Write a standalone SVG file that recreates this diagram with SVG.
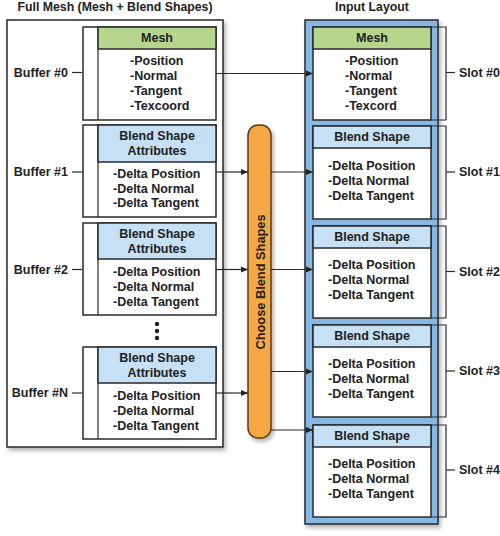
<svg xmlns="http://www.w3.org/2000/svg" width="500" height="536" viewBox="0 0 500 536">
<defs>
<filter id="sh" x="-10%" y="-10%" width="130%" height="130%">
<feDropShadow dx="2" dy="3" stdDeviation="2" flood-color="#000" flood-opacity="0.3"/>
</filter>
<marker id="ar" markerWidth="8" markerHeight="8" refX="7" refY="4" orient="auto" markerUnits="userSpaceOnUse">
<path d="M0,1 L7,4 L0,7 z" fill="#222"/>
</marker>
</defs>
<style>
text{font-family:"Liberation Sans",Arial,sans-serif;font-weight:bold;fill:#222;font-size:12.5px}
.t{font-size:12.3px}
.v{font-size:12.8px}
.c{text-anchor:middle}
.r{text-anchor:end}
.box{fill:#fff;stroke:#2a2a2a;stroke-width:1.5}
.gh{fill:#b6d68d;stroke:#2a2a2a;stroke-width:1.5}
.bh{fill:#c6e0f5;stroke:#2a2a2a;stroke-width:1.5}
.ln{stroke:#2a2a2a;stroke-width:1.2;fill:none}
.br{stroke:#2a2a2a;stroke-width:1.2;fill:none}
</style>
<rect width="500" height="536" fill="#fff"/>

<text class="t c" x="115" y="11">Full Mesh (Mesh + Blend Shapes)</text>
<text class="t c" x="372" y="11">Input Layout</text>

<g id="full-mesh">
<rect x="7" y="20" width="216" height="427" fill="#fff" stroke="#2a2a2a" stroke-width="1.5" filter="url(#sh)"/>
</g>

<g id="buffer0">
<rect class="box" x="83" y="27" width="133" height="93"/>
<line class="ln" x1="98" y1="27" x2="98" y2="120"/>
<rect class="gh" x="98" y="27" width="118" height="22"/>
<text class="c" x="157" y="42">Mesh</text>
<text x="130" y="65">-Position</text>
<text x="130" y="80">-Normal</text>
<text x="130" y="95">-Tangent</text>
<text x="130" y="110">-Texcoord</text>
<text class="r" x="68" y="77">Buffer #0</text>
<line class="ln" x1="72" y1="72.5" x2="82" y2="72.5"/>
</g>

<g id="buffer1">
<rect class="box" x="83" y="125" width="133" height="92"/>
<line class="ln" x1="98" y1="125" x2="98" y2="217"/>
<rect class="bh" x="98" y="125" width="118" height="37"/>
<text class="c" x="157" y="140">Blend Shape</text>
<text class="c" x="157" y="155">Attributes</text>
<text x="113" y="178">-Delta Position</text>
<text x="113" y="193">-Delta Normal</text>
<text x="113" y="207">-Delta Tangent</text>
<text class="r" x="68" y="176">Buffer #1</text>
<line class="ln" x1="72" y1="172" x2="82" y2="172"/>
</g>

<g id="buffer2">
<rect class="box" x="83" y="223" width="133" height="92"/>
<line class="ln" x1="98" y1="223" x2="98" y2="315"/>
<rect class="bh" x="98" y="223" width="118" height="36"/>
<text class="c" x="157" y="238">Blend Shape</text>
<text class="c" x="157" y="253">Attributes</text>
<text x="113" y="276">-Delta Position</text>
<text x="113" y="291">-Delta Normal</text>
<text x="113" y="306">-Delta Tangent</text>
<text class="r" x="68" y="274">Buffer #2</text>
<line class="ln" x1="72" y1="269.5" x2="82" y2="269.5"/>
</g>

<g id="dots" fill="#222">
<circle cx="157" cy="324" r="2.2"/>
<circle cx="157" cy="331" r="2.2"/>
<circle cx="157" cy="338" r="2.2"/>
</g>

<g id="bufferN">
<rect class="box" x="83" y="347" width="133" height="92"/>
<line class="ln" x1="98" y1="347" x2="98" y2="439"/>
<rect class="bh" x="98" y="347" width="118" height="36"/>
<text class="c" x="157" y="362">Blend Shape</text>
<text class="c" x="157" y="377">Attributes</text>
<text x="113" y="400">-Delta Position</text>
<text x="113" y="415">-Delta Normal</text>
<text x="113" y="430">-Delta Tangent</text>
<text class="r" x="68" y="397">Buffer #N</text>
<line class="ln" x1="72" y1="393" x2="82" y2="393"/>
</g>

<g id="choose">
<rect x="248" y="125" width="23" height="313" rx="10" ry="10" fill="#f5a845" stroke="#5a3d15" stroke-width="1.5" filter="url(#sh)"/>
<text class="c v" transform="translate(264.5,282) rotate(-90)">Choose Blend Shapes</text>
</g>

<g id="input-layout">
<rect x="305" y="20" width="133" height="504" fill="#86b8e3" stroke="#2a2a2a" stroke-width="1.5" filter="url(#sh)"/>
</g>

<g id="slot0">
<rect class="box" x="313" y="27" width="118" height="93"/>
<rect class="gh" x="313" y="27" width="118" height="22"/>
<text class="c" x="372" y="42">Mesh</text>
<text x="345" y="65">-Position</text>
<text x="345" y="80">-Normal</text>
<text x="345" y="95">-Tangent</text>
<text x="345" y="110">-Texcord</text>
<path class="br" d="M431,27 H446 V120 H431"/>
<line class="ln" x1="446" y1="72.5" x2="455" y2="72.5"/>
<text x="459" y="77">Slot #0</text>
</g>

<g id="slot1">
<rect class="box" x="313" y="126" width="118" height="93"/>
<rect class="bh" x="313" y="126" width="118" height="22"/>
<text class="c" x="372" y="141">Blend Shape</text>
<text x="328" y="170">-Delta Position</text>
<text x="328" y="185">-Delta Normal</text>
<text x="328" y="200">-Delta Tangent</text>
<path class="br" d="M431,126 H446 V219 H431"/>
<line class="ln" x1="446" y1="172" x2="455" y2="172"/>
<text x="459" y="176">Slot #1</text>
</g>

<g id="slot2">
<rect class="box" x="313" y="226" width="118" height="92"/>
<rect class="bh" x="313" y="226" width="118" height="22"/>
<text class="c" x="372" y="241">Blend Shape</text>
<text x="328" y="269">-Delta Position</text>
<text x="328" y="284">-Delta Normal</text>
<text x="328" y="299">-Delta Tangent</text>
<path class="br" d="M431,226 H446 V318 H431"/>
<line class="ln" x1="446" y1="271.5" x2="455" y2="271.5"/>
<text x="459" y="276">Slot #2</text>
</g>

<g id="slot3">
<rect class="box" x="313" y="325" width="118" height="92"/>
<rect class="bh" x="313" y="325" width="118" height="22"/>
<text class="c" x="372" y="340">Blend Shape</text>
<text x="328" y="368">-Delta Position</text>
<text x="328" y="383">-Delta Normal</text>
<text x="328" y="398">-Delta Tangent</text>
<path class="br" d="M431,325 H446 V417 H431"/>
<line class="ln" x1="446" y1="371" x2="455" y2="371"/>
<text x="459" y="375">Slot #3</text>
</g>

<g id="slot4">
<rect class="box" x="313" y="425" width="118" height="92"/>
<rect class="bh" x="313" y="425" width="118" height="22"/>
<text class="c" x="372" y="440">Blend Shape</text>
<text x="328" y="468">-Delta Position</text>
<text x="328" y="483">-Delta Normal</text>
<text x="328" y="498">-Delta Tangent</text>
<path class="br" d="M431,425 H446 V517 H431"/>
<line class="ln" x1="446" y1="470" x2="455" y2="470"/>
<text x="459" y="474">Slot #4</text>
</g>

<g id="connectors" class="ln" marker-end="url(#ar)">
<line x1="216" y1="73.5" x2="313" y2="73.5"/>
<line x1="216" y1="172" x2="248" y2="172"/>
<line x1="216" y1="269.5" x2="248" y2="269.5"/>
<line x1="216" y1="393" x2="248" y2="393"/>
<line x1="271" y1="172" x2="313" y2="172"/>
<line x1="271" y1="269.5" x2="313" y2="269.5"/>
<line x1="271" y1="371.5" x2="313" y2="371.5"/>
<line x1="271" y1="430" x2="313" y2="430"/>
</g>
</svg>
